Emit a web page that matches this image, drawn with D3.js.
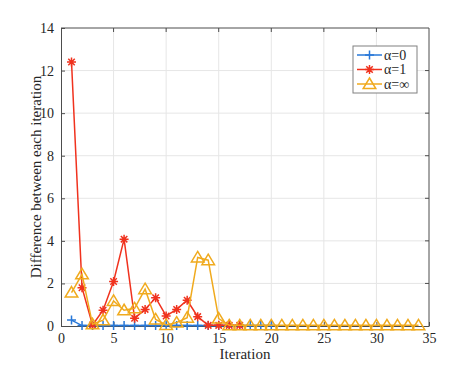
<!DOCTYPE html>
<html>
<head>
<meta charset="utf-8">
<script src="https://cdn.jsdelivr.net/npm/d3@7"></script>
<style>
  body { margin: 0; background: #fff; }
  svg text { font-family: 'Liberation Serif', 'Times New Roman', Times, 'DejaVu Serif', serif !important; fill: #262626; }
</style>
</head>
<body>
<script>
// data
const iterA0 = d3.range(1, 21);
const valA0 = [0.28, 0.02, 0.02, 0.02, 0.02, 0.02, 0.02, 0.02, 0.02, 0.02,
               0.02, 0.02, 0.02, 0.02, 0.02, 0.02, 0.02, 0.02, 0.02, 0.02];
const iterA1 = d3.range(1, 18);
const valA1 = [12.4, 1.8, 0.05, 0.74, 2.09, 4.08, 0.36, 0.78, 1.33, 0.47,
               0.78, 1.21, 0.44, 0.03, 0.03, 0.03, 0.03];
const iterInf = d3.range(1, 35);
const valInf = [1.57, 2.43, 0.08, 0.27, 1.18, 0.74, 0.83, 1.73, 0.31, 0.05,
                0.16, 0.39, 3.22, 3.09, 0.35, 0.03, 0.03, 0.03, 0.03, 0.03,
                0.03, 0.03, 0.03, 0.03, 0.03, 0.03, 0.03, 0.03, 0.03, 0.03,
                0.03, 0.03, 0.03, 0.03];
const xTicks = [0, 5, 10, 15, 20, 25, 30, 35];
const yTicks = [0, 2, 4, 6, 8, 10, 12, 14];
const legendLabels = ["α=0", "α=1", "α=∞"];

const width = 474, height = 366;
const margin = { top: 28, right: 45, bottom: 40, left: 61 };
const serif = "'Liberation Serif', 'Times New Roman', 'DejaVu Serif', serif";

const svg = d3.select('body').append('svg')
    .attr('width', width).attr('height', height);

const xScale = d3.scaleLinear().domain([0, 35])
    .range([margin.left, width - margin.right]);
const yScale = d3.scaleLinear().domain([0, 14])
    .range([height - margin.bottom, margin.top]);

// grid
svg.append('g').selectAll('line').data(xTicks.slice(1, -1)).enter().append('line')
    .attr('x1', d => xScale(d)).attr('x2', d => xScale(d))
    .attr('y1', yScale(0)).attr('y2', yScale(14))
    .attr('stroke', '#e6e6e6');
svg.append('g').selectAll('line').data(yTicks.slice(1, -1)).enter().append('line')
    .attr('y1', d => yScale(d)).attr('y2', d => yScale(d))
    .attr('x1', xScale(0)).attr('x2', xScale(35))
    .attr('stroke', '#e6e6e6');

// axes
const xAxis = d3.axisBottom(xScale).tickValues(xTicks).tickSizeInner(-4).tickSizeOuter(0).tickPadding(7);
const yAxis = d3.axisLeft(yScale).tickValues(yTicks).tickSizeInner(-4).tickSizeOuter(0).tickPadding(7);
const gx = svg.append('g').attr('transform', `translate(0,${yScale(0)})`).call(xAxis);
const gy = svg.append('g').attr('transform', `translate(${xScale(0)},0)`).call(yAxis);
[gx, gy].forEach(g => {
    g.attr('font-family', serif);
    g.select('.domain').attr('stroke', '#4d4d4d');
    g.selectAll('.tick line').attr('stroke', '#4d4d4d');
    g.selectAll('text').attr('font-family', serif).style('font-size', '14px').attr('fill', '#262626');
});
// top and right box lines
svg.append('path')
    .attr('d', `M${xScale(0)},${yScale(14)}H${xScale(35)}V${yScale(0)}`)
    .attr('fill', 'none').attr('stroke', '#4d4d4d');
svg.append('g').selectAll('line').data(xTicks.slice(1, -1)).enter().append('line')
    .attr('x1', d => xScale(d)).attr('x2', d => xScale(d))
    .attr('y1', yScale(14)).attr('y2', yScale(14) + 4).attr('stroke', '#4d4d4d');
svg.append('g').selectAll('line').data(yTicks.slice(1, -1)).enter().append('line')
    .attr('y1', d => yScale(d)).attr('y2', d => yScale(d))
    .attr('x1', xScale(35)).attr('x2', xScale(35) - 4).attr('stroke', '#4d4d4d');

// axis labels
svg.append('text').attr('x', (xScale(0) + xScale(35)) / 2).attr('y', 359)
    .attr('font-family', serif)
    .attr('text-anchor', 'middle').style('font-size', '15px').text('Iteration');
svg.append('text')
    .attr('transform', `translate(41,${(yScale(0) + yScale(14)) / 2}) rotate(-90)`)
    .attr('font-family', serif)
    .attr('text-anchor', 'middle').style('font-size', '15px')
    .text('Difference between each iteration');

// marker shapes
const plusPath = s => `M${-s},0H${s}M0,${-s}V${s}`;
const starPath = s => {
    const d = s * 0.72;
    return `M${-s},0H${s}M0,${-s}V${s}M${-d},${-d}L${d},${d}M${-d},${d}L${d},${-d}`;
};
const triPath = s => `M0,${-s}L${s * 1.05},${s * 0.75}L${-s * 1.05},${s * 0.75}Z`;

const series = [
    { xs: iterA0, ys: valA0, color: '#2878d8', marker: plusPath(4.5) },
    { xs: iterA1, ys: valA1, color: '#f0321e', marker: starPath(4.5) },
    { xs: iterInf, ys: valInf, color: '#f0aa1e', marker: triPath(6) }
];

const line = d3.line().x(d => xScale(d[0])).y(d => yScale(d[1]));

series.forEach(s => {
    const pts = s.xs.map((x, i) => [x, s.ys[i]]);
    const g = svg.append('g');
    g.append('path').attr('d', line(pts))
        .attr('fill', 'none').attr('stroke', s.color).attr('stroke-width', 1.5);
    g.selectAll('path.m').data(pts).enter().append('path').attr('class', 'm')
        .attr('transform', d => `translate(${xScale(d[0])},${yScale(d[1])})`)
        .attr('d', s.marker)
        .attr('fill', 'none').attr('stroke', s.color).attr('stroke-width', 1.5);
});

// legend
const lg = svg.append('g').attr('transform', 'translate(353,46)');
lg.append('rect').attr('width', 64).attr('height', 47)
    .attr('fill', '#fff').attr('stroke', '#808080');
series.forEach((s, i) => {
    const y = 9 + i * 14.5;
    lg.append('line').attr('x1', 4).attr('x2', 29).attr('y1', y).attr('y2', y)
        .attr('stroke', s.color).attr('stroke-width', 1.5);
    lg.append('path').attr('transform', `translate(16.5,${y})`).attr('d', s.marker)
        .attr('fill', 'none').attr('stroke', s.color).attr('stroke-width', 1.5);
    lg.append('text').attr('x', 31).attr('y', y + 4.5)
        .attr('font-family', serif)
        .style('font-size', '14px').text(legendLabels[i]);
});
</script>
</body>
</html>
